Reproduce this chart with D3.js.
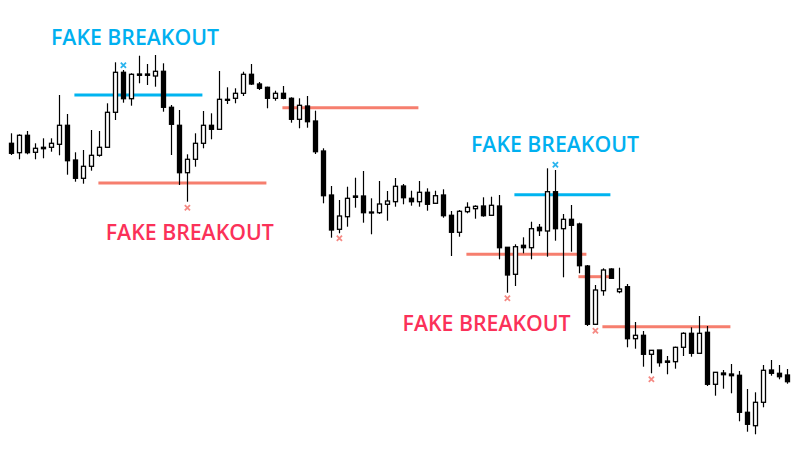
<!DOCTYPE html>
<html lang="en">
<head>
    <meta charset="utf-8">
    <title>Fake breakout</title>
    <script src="https://cdn.jsdelivr.net/npm/d3@7"></script>
    <style>
        body { margin: 0; background: #fff; }
        .label { font-family: "Open Sans", sans-serif; font-weight: 600; font-size: 22px; }
    </style>
</head>
<body>
<script>
    // OHLC, one entry per candle (price units)
    const open  = [356.7,347.3,364.7,347.7,352.7,352.7,355.7,374.7,340,321.7,333.7,344.7,352.7,387.7,427.7,401.3,426,426,424,428.7,
                   392.7,374.7,327.3,340.7,356.7,374.7,370.7,400.7,401.7,406.7,425.7,416,412.7,401.7,406.7,401.7,380.7,394,379,349,
                   305,270.7,283.3,304,304,288,287.3,295.7,298.3,314,301.7,298.3,307.7,296.7,305,284.7,267.7,288.3,291.3,294,
                   284.7,294,252.7,225.7,254.7,252.3,272.7,269,308.3,271.3,280.7,276,234,175.7,209.3,231,208.3,213.3,161.3,164.7,
                   145.7,150,139,138.3,152.7,166.7,146.7,167.7,115.7,127,126,124.7,87.7,74.3,97.7,130,126.7,125];
    const high  = [366.7,365.7,369,356.7,361.7,361.7,405,386,347.7,350,370,369,396.7,437.7,430,426.7,444.3,436,445,436.7,
                   395,390,345.7,366.7,389,386.7,429,412.7,411.7,428.3,436,418,413.3,409.3,414,402.7,401.7,404,389.3,351.7,
                   314,300,313.3,322.3,329,301.7,319,309,322,316,309.3,319,311.7,309.3,310.7,289,290,297.7,294.7,302.7,
                   303.3,305,252.7,255.7,262.7,278.3,276,331.7,330,286,295,277.3,235,215,231.7,231.7,232.3,216,178,169,
                   150,150,144,153.3,167.7,172.7,184,174,128,130,136,129,111,107.7,135,140,135,131];
    const low   = [345,340.7,345.7,340.7,341.7,348.3,344.7,325.3,318.3,316.3,329.3,343.3,352.7,380,397.3,394.3,416.7,415,413.3,388.3,
                   345,315,298.3,333.3,351.7,360.7,370.7,396,396.7,404,415,410,391.7,399.3,400.7,377.3,371.7,372.3,346,296.7,
                   262.3,266.7,273.3,292.3,277.3,265.7,286,279.3,293.3,295.7,294.3,293.3,289.3,296.7,282.3,244,263.3,286.7,281.3,283.3,
                   284.7,240.7,207.3,214,246.7,240.7,264,243.3,259.3,222.7,248.3,226.7,174,175.7,204.3,221.7,206.7,152.7,151.3,133.3,
                   126.7,133.3,125.7,131.3,144,143.3,146.7,114,104.3,111.3,106.7,78.7,68.3,65.7,92.7,124.3,120.7,116.3];
    const close = [346.7,364.7,347.3,351.7,351.3,356.7,374.7,339.3,321.7,333.7,344.7,352.7,387.7,427.7,401.3,425.7,424.7,424.7,428.7,392.7,
                   375.7,327.3,340.7,356.7,374.7,370.7,400.7,399.7,406.7,425.7,416,411.7,401.7,406.7,401.7,380.7,394.7,378.3,348.3,304.3,
                   270,284,301.7,302.7,287.3,287.3,296,299,313.7,302.3,298.3,307.7,295.7,304.3,284.3,267.7,288.7,292.7,293.7,284.3,
                   294.7,252.3,225,253.3,252.3,271.3,269.3,308.3,271.3,280.7,274.7,234.3,175.7,210,230,221.7,211,161.3,164.7,145.7,
                   149.7,137.3,137.7,152.7,166.7,146.7,166.7,115.7,127.7,125.3,124.3,87.7,75.7,97.7,129.7,126.7,123.3,118.3];

    // support / resistance lines: candle index range and price
    const levelFrom  = [7.875, 10.875, 33.875, 62.875, 56.875, 70.875, 73.875];
    const levelTo    = [23.875, 31.875, 50.875, 74.875, 71.875, 74.75, 89.875];
    const levelPrice = [405, 317, 392.3, 305.3, 245.7, 223.3, 173.3];
    const levelKind  = ["up", "down", "down", "up", "down", "down", "down"];

    // breakout crosses
    const markIndex = [14, 68, 22, 41, 62, 73, 80];
    const markPrice = [434.7, 335.3, 292.3, 261.7, 201.7, 169.3, 120.7];
    const markKind  = ["up", "up", "down", "down", "down", "down", "down"];

    // text labels
    const labelText  = ["FAKE BREAKOUT", "FAKE BREAKOUT", "FAKE BREAKOUT", "FAKE BREAKOUT"];
    const labelIndex = [4.95, 11.8, 57.45, 48.9];
    const labelPrice = [455, 260, 348.3, 169.3];
    const labelKind  = ["up", "down", "up", "down"];

    const width = 800, height = 450;
    const lineColor  = { up: "#00b4f0", down: "#f67e6e" };
    const markColor  = { up: "#2ab4ee", down: "#f58a84" };
    const textColor  = { up: "#00b0f0", down: "#fb3159" };

    const candles = open.map((o, i) => ({ i, o, h: high[i], l: low[i], c: close[i] }));

    const x = d3.scaleLinear().domain([0, 97]).range([11.4, 787.4]);
    const y = d3.scaleLinear().domain([50, 500]).range([450, 0]);

    const svg = d3.select("body").append("svg")
        .attr("width", width)
        .attr("height", height);

    // levels go under the candles
    svg.append("g").selectAll("line")
        .data(levelPrice.map((p, k) => ({ p, a: levelFrom[k], b: levelTo[k], kind: levelKind[k] })))
        .join("line")
            .attr("x1", d => x(d.a))
            .attr("x2", d => x(d.b))
            .attr("y1", d => y(d.p))
            .attr("y2", d => y(d.p))
            .attr("stroke", d => lineColor[d.kind])
            .attr("stroke-width", 3);

    const bw = 4;
    const g = svg.append("g").selectAll("g")
        .data(candles)
        .join("g");

    g.append("line")
        .attr("x1", d => Math.round(x(d.i)) + 0.5)
        .attr("x2", d => Math.round(x(d.i)) + 0.5)
        .attr("y1", d => y(d.h))
        .attr("y2", d => y(d.l))
        .attr("stroke", "#000")
        .attr("stroke-width", 1.2);

    g.append("rect")
        .attr("x", d => Math.round(x(d.i)) + 0.5 - bw / 2)
        .attr("width", bw)
        .attr("y", d => y(Math.max(d.o, d.c)))
        .attr("height", d => Math.max(1, Math.abs(y(d.o) - y(d.c))))
        .attr("fill", d => d.c >= d.o ? "#fff" : "#000")
        .attr("stroke", "#000")
        .attr("stroke-width", 1.3);

    // crosses
    const s = 2.6;
    svg.append("g").selectAll("path")
        .data(markIndex.map((m, k) => ({ m, p: markPrice[k], kind: markKind[k] })))
        .join("path")
            .attr("d", d => {
                const cx = x(d.m), cy = y(d.p);
                return `M${cx - s},${cy - s}L${cx + s},${cy + s}M${cx - s},${cy + s}L${cx + s},${cy - s}`;
            })
            .attr("stroke", d => markColor[d.kind])
            .attr("stroke-width", 1.8)
            .attr("fill", "none");

    svg.append("g").selectAll("text")
        .data(labelText.map((t, k) => ({ t, i: labelIndex[k], p: labelPrice[k], kind: labelKind[k] })))
        .join("text")
            .attr("class", "label")
            .attr("x", d => x(d.i))
            .attr("y", d => y(d.p))
            .attr("fill", d => textColor[d.kind])
            .attr("textLength", 168)
            .attr("lengthAdjust", "spacingAndGlyphs")
            .text(d => d.t);
</script>
</body>
</html>
